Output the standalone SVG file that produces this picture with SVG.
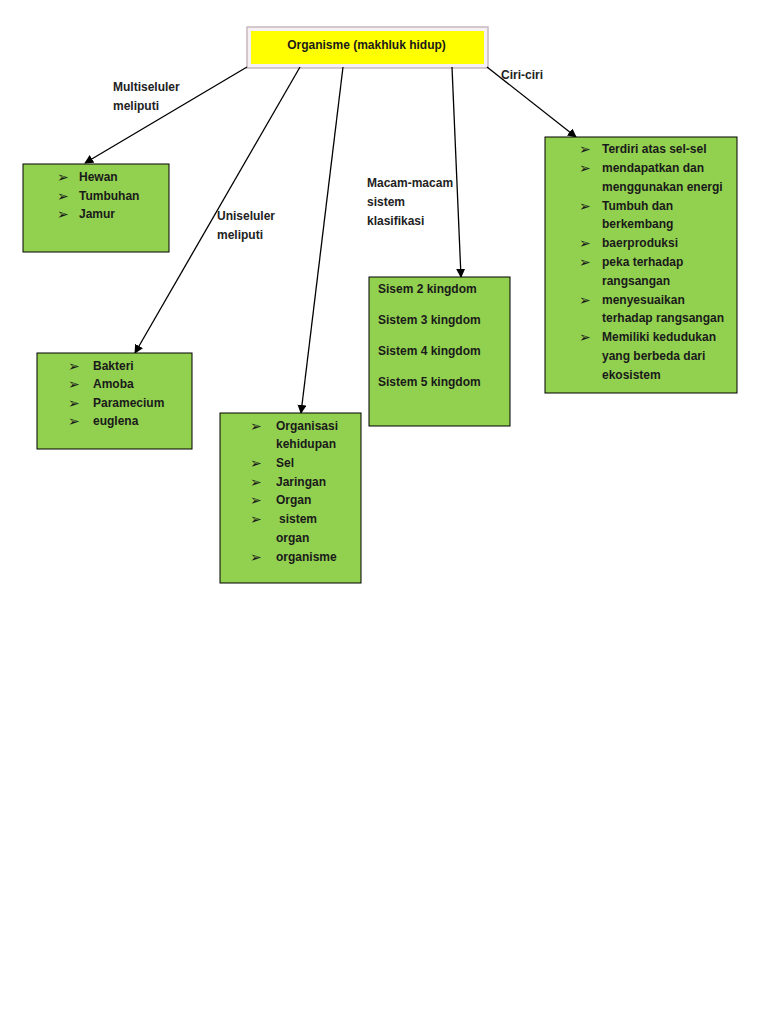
<svg xmlns="http://www.w3.org/2000/svg" width="768" height="1024" viewBox="0 0 768 1024">
<defs>
<marker id="ah" viewBox="0 0 10 10" refX="9" refY="5" markerWidth="9" markerHeight="9" markerUnits="userSpaceOnUse" orient="auto">
<path d="M0,0 L10,5 L0,10 z" fill="#000"/>
</marker>
<style>
text{font-family:"Liberation Sans",Arial,sans-serif;font-size:12px;font-weight:bold;fill:#1a1a1a}
.b{font-family:"DejaVu Sans",sans-serif;font-size:14px;font-weight:bold}
.box{fill:#92d050;stroke:#000;stroke-width:1}
.lbl{font-weight:bold;fill:#222}
line{stroke:#000;stroke-width:1.3}
</style>
</defs>
<rect width="768" height="1024" fill="#fff"/>
<g id="root">
<rect x="247" y="27" width="241" height="41" fill="#f4f0f4" stroke="#c8b8c0" stroke-width="1.5"/>
<rect x="251" y="31" width="233" height="33" fill="#ffff00"/>
<text x="366.5" y="49" text-anchor="middle">Organisme (makhluk hidup)</text>
</g>
<g id="connectors">
<line x1="247" y1="67" x2="85" y2="163" marker-end="url(#ah)"/>
<line x1="300" y1="67" x2="135" y2="353" marker-end="url(#ah)"/>
<line x1="343" y1="67" x2="301" y2="413" marker-end="url(#ah)"/>
<line x1="452" y1="67" x2="461" y2="277" marker-end="url(#ah)"/>
<line x1="487" y1="67" x2="576" y2="137" marker-end="url(#ah)"/>
<text class="lbl" x="113" y="91">Multiseluler</text>
<text class="lbl" x="113" y="110">meliputi</text>
<text class="lbl" x="217" y="220">Uniseluler</text>
<text class="lbl" x="217" y="239">meliputi</text>
<text class="lbl" x="367" y="187">Macam-macam</text>
<text class="lbl" x="367" y="206">sistem</text>
<text class="lbl" x="367" y="225">klasifikasi</text>
<text class="lbl" x="501" y="79">Ciri-ciri</text>
</g>
<g id="multiseluler">
<rect class="box" x="23" y="164" width="146" height="88"/>
<text class="b" x="57" y="182">➢</text><text x="79" y="181">Hewan</text>
<text class="b" x="57" y="201">➢</text><text x="79" y="200">Tumbuhan</text>
<text class="b" x="57" y="219">➢</text><text x="79" y="218">Jamur</text>
</g>
<g id="uniseluler">
<rect class="box" x="37" y="353" width="155" height="96"/>
<text class="b" x="68" y="371">➢</text><text x="93" y="370">Bakteri</text>
<text class="b" x="68" y="389">➢</text><text x="93" y="388">Amoba</text>
<text class="b" x="68" y="408">➢</text><text x="93" y="407">Paramecium</text>
<text class="b" x="68" y="426">➢</text><text x="93" y="425">euglena</text>
</g>
<g id="organisasi">
<rect class="box" x="220" y="413" width="141" height="170"/>
<text class="b" x="250" y="431">➢</text><text x="276" y="430">Organisasi</text>
<text x="276" y="448">kehidupan</text>
<text class="b" x="250" y="468">➢</text><text x="276" y="467">Sel</text>
<text class="b" x="250" y="487">➢</text><text x="276" y="486">Jaringan</text>
<text class="b" x="250" y="505">➢</text><text x="276" y="504">Organ</text>
<text class="b" x="250" y="524">➢</text><text x="279" y="523">sistem</text>
<text x="276" y="542">organ</text>
<text class="b" x="250" y="562">➢</text><text x="276" y="561">organisme</text>
</g>
<g id="klasifikasi">
<rect class="box" x="369" y="277" width="141" height="149"/>
<text x="378" y="293">Sisem 2 kingdom</text>
<text x="378" y="324">Sistem 3 kingdom</text>
<text x="378" y="355">Sistem 4 kingdom</text>
<text x="378" y="386">Sistem 5 kingdom</text>
</g>
<g id="ciri">
<rect class="box" x="545" y="137" width="192" height="256"/>
<text class="b" x="579" y="154">➢</text><text x="602" y="153">Terdiri atas sel-sel</text>
<text class="b" x="579" y="173">➢</text><text x="602" y="172">mendapatkan dan</text>
<text x="602" y="191">menggunakan energi</text>
<text class="b" x="579" y="211">➢</text><text x="602" y="210">Tumbuh dan</text>
<text x="602" y="228">berkembang</text>
<text class="b" x="579" y="248">➢</text><text x="602" y="247">baerproduksi</text>
<text class="b" x="579" y="267">➢</text><text x="602" y="266">peka terhadap</text>
<text x="602" y="285">rangsangan</text>
<text class="b" x="579" y="305">➢</text><text x="602" y="304">menyesuaikan</text>
<text x="602" y="322">terhadap rangsangan</text>
<text class="b" x="579" y="342">➢</text><text x="602" y="341">Memiliki kedudukan</text>
<text x="602" y="360">yang berbeda dari</text>
<text x="602" y="379">ekosistem</text>
</g>
</svg>
